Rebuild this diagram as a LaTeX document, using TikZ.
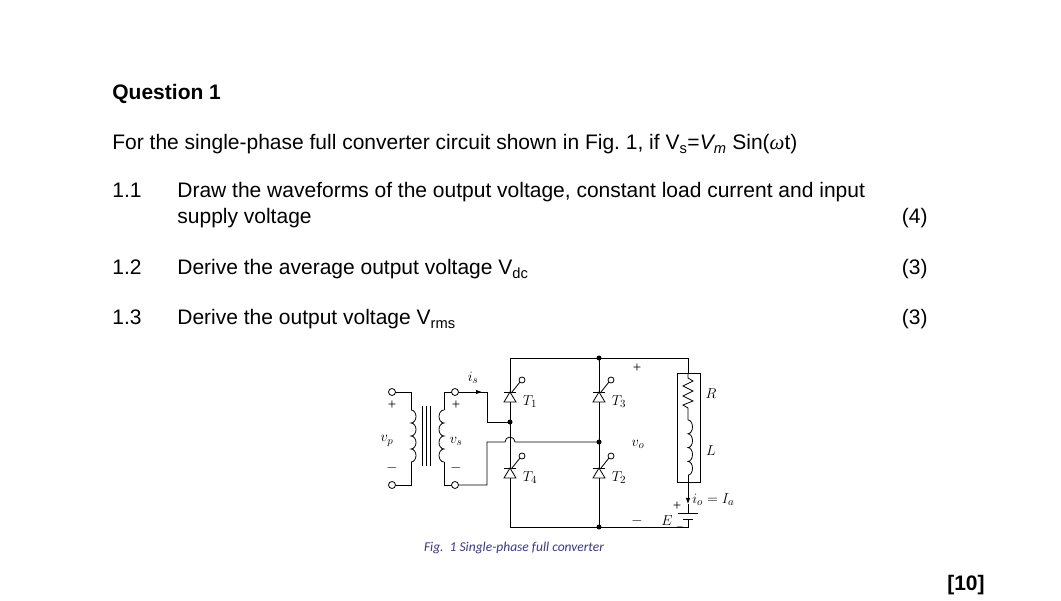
\documentclass[tikz,border=0pt]{standalone}
\usepackage{fontspec}
\setmainfont{Liberation Sans}
\newfontfamily\capfont{Carlito}
\newfontfamily\cirfont{Liberation Serif}
\usetikzlibrary{arrows.meta}
\newcommand\thyr[2]{%
  \fill[white] (#1-6,#2+5) -- (#1+6,#2+5) -- (#1,#2-5) -- cycle;
  \draw (#1-6,#2+5) -- (#1+6,#2+5) -- (#1,#2-5) -- cycle;
  \draw (#1-6,#2-5) -- (#1+6,#2-5);
  \draw (#1+2,#2-5) -- (#1+10,#2-15);
  \draw[fill=white] (#1+12,#2-17) circle[radius=3];}
\begin{document}
\begin{tikzpicture}[x=1pt,y=-1pt,line width=0.8pt,
  txt/.style={anchor=base west,inner sep=0,font=\fontsize{21}{25}\selectfont},
  lab/.style={inner sep=0,font=\cirfont\itshape\fontsize{15}{17}\selectfont},
  term/.style={draw,fill=white,circle,inner sep=0,minimum size=7pt},
  dot/.style={fill,circle,inner sep=0,minimum size=5pt}]
\useasboundingbox (0,0) rectangle (1061,601);
\node[txt,font=\bfseries\fontsize{21}{25}\selectfont] (q) at (112,100) {Question 1};
\node[txt] (l0) at (112,150) {For the single-phase full converter circuit shown in Fig.~1, if V\textsubscript{s}=\textit{V\textsubscript{m}} Sin(\textit{\cirfont ω}t)};
\node[txt] (n1) at (112,198) {1.1};
\node[txt] (t1) at (177,198) {Draw the waveforms of the output voltage, constant load current and input};
\node[txt] (t1b) at (177,224) {supply voltage};
\node[txt,anchor=base east] (m1) at (928,224) {(4)};
\node[txt] (n2) at (112,275) {1.2};
\node[txt] (t2) at (177,275) {Derive the average output voltage V\textsubscript{dc}};
\node[txt,anchor=base east] (m2) at (928,275) {(3)};
\node[txt] (n3) at (112,325) {1.3};
\node[txt] (t3) at (177,325) {Derive the output voltage V\textsubscript{rms}};
\node[txt,anchor=base east] (m3) at (928,325) {(3)};
\node[txt,anchor=base east,font=\bfseries\fontsize{21}{25}\selectfont] (tot) at (985,590) {[10]};
\node[inner sep=0,font=\capfont\itshape\fontsize{13.5}{15}\selectfont,text=black!45!blue!55!gray] (cap) at (514,548) {Fig.~~1 Single-phase full converter};
% circuit
\coordinate (TL) at (510,358); \coordinate (TM) at (599,358); \coordinate (TR) at (688,358);
\coordinate (BL) at (510,527); \coordinate (BM) at (599,527); \coordinate (BR) at (688,527);
\coordinate (JL) at (510,422); \coordinate (JR) at (599,442);
\draw (TL) -- (TR) -- (688,373);
\draw (BL) -- (BR) -- (688,519);
\draw (TL) -- (BL);
\draw (TM) -- (BM);
% secondary wiring
\draw (455,392) -- (487,392) -- (487,422) -- (JL);
\draw (455,485) -- (487,485) -- (487,442) -- (505,442) arc[start angle=180,end angle=360,radius=5] -- (JR);
\draw[-{Latex[length=6pt]}] (470,392) -- (482,392);
% windings
\draw (392,392) -- (411,392) -- (411,410);
\draw (411,410) \foreach \k in {0,1,2,3}{ arc[start angle=-90,end angle=90,x radius=5,y radius=6.5]};
\draw (411,462) -- (411,485) -- (392,485);
\draw (455,392) -- (444,392) -- (444,410);
\draw (444,410) \foreach \k in {0,1,2,3}{ arc[start angle=270,end angle=90,x radius=5,y radius=6.5]};
\draw (444,462) -- (444,485) -- (455,485);
\draw (422,406) -- (422,466); \draw (426,406) -- (426,466); \draw (430,406) -- (430,466);
\node[term] (p1) at (392,392) {}; \node[term] (p2) at (392,485) {};
\node[term] (s1) at (455,392) {}; \node[term] (s2) at (455,485) {};
% thyristors
\thyr{510}{397} \thyr{599}{397} \thyr{510}{473} \thyr{599}{473}
\node[dot] at (JL) {}; \node[dot] at (JR) {}; \node[dot] at (TM) {}; \node[dot] at (BM) {};
% load
\draw (677,373) rectangle (700,482);
\draw (688,373) -- (688,378) -- (693,381) -- (683,386) -- (693,391) -- (683,396) -- (693,401) -- (683,405) -- (688,408) -- (688,420);
\draw (688,420) \foreach \k in {0,1,2,3}{ arc[start angle=-90,end angle=90,x radius=4.5,y radius=6.9]};
\draw[-{Latex[length=6pt]}] (688,475) -- (688,504);
\draw (688,504) -- (688,513);
\draw (678,513) -- (698,513); \draw (683,519) -- (693,519);
% labels
\node[lab] at (392,405) {+}; \node[lab] at (392,468) {$-$};
\node[lab] at (456,405) {+}; \node[lab] at (456,468) {$-$};
\node[lab] at (387,441) {$v_p$}; \node[lab] at (456,441) {$v_s$};
\node[lab] at (473,378) {$i_s$};
\node[lab] at (530,402) {$T_1$}; \node[lab] at (619,402) {$T_3$};
\node[lab] at (530,478) {$T_4$}; \node[lab] at (619,478) {$T_2$};
\node[lab] at (637,368) {+}; \node[lab] at (637,521) {$-$};
\node[lab] at (638,444) {$v_o$};
\node[lab] at (711,394) {$R$}; \node[lab] at (711,451) {$L$};
\node[lab] at (677,506) {+};
\node[lab,anchor=west] at (692,500) {$i_o = I_a$};
\node[lab] at (667,521) {$E$}; \node[lab,font=\fontsize{10}{10}\selectfont] at (680,527) {$-$};
\end{tikzpicture}
\end{document}
